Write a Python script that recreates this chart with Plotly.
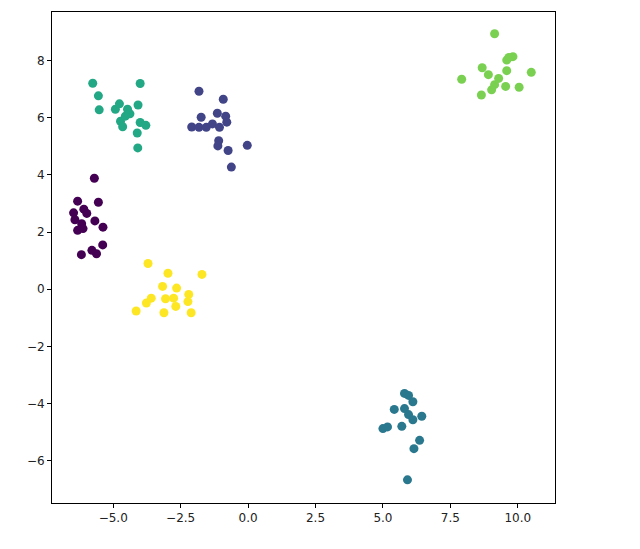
import plotly.graph_objects as go

# cluster 0 (purple)
x0 = [-5.70, -6.32, -5.55, -6.47, -6.09, -5.98, -6.42, -6.17, -5.68, -5.38, -6.32, -6.12, -5.39, -5.79, -5.62, -6.18]
y0 = [3.88, 3.08, 3.04, 2.67, 2.80, 2.65, 2.43, 2.29, 2.39, 2.17, 2.06, 2.12, 1.55, 1.36, 1.24, 1.21]
# cluster 1 (dark blue)
x1 = [-1.82, -0.92, -1.74, -2.09, -1.82, -1.55, -1.14, -0.83, -0.79, -1.32, -1.06, -1.09, -1.12, -0.74, -0.03, -0.62]
y1 = [6.92, 6.64, 6.01, 5.67, 5.66, 5.66, 6.15, 6.05, 5.84, 5.78, 5.66, 5.19, 5.01, 4.85, 5.03, 4.27]
# cluster 2 (teal)
x2 = [5.80, 5.95, 6.11, 5.42, 5.80, 5.95, 6.11, 6.44, 5.00, 5.17, 5.70, 6.36, 6.15, 5.91]
y2 = [-3.64, -3.71, -3.93, -4.20, -4.17, -4.38, -4.56, -4.44, -4.87, -4.81, -4.79, -5.28, -5.57, -6.66]
# cluster 3 (green)
x3 = [-5.76, -4.00, -5.55, -5.52, -4.92, -4.77, -4.47, -4.08, -4.38, -4.73, -4.65, -4.00, -3.79, -4.11, -4.09, -4.55]
y3 = [7.20, 7.19, 6.76, 6.27, 6.29, 6.48, 6.29, 6.44, 6.13, 5.87, 5.68, 5.83, 5.73, 5.46, 4.94, 6.05]
# cluster 4 (light green)
x4 = [9.14, 9.59, 9.82, 9.67, 8.68, 8.91, 9.59, 10.50, 7.92, 9.29, 9.14, 9.55, 9.03, 10.05, 8.65]
y4 = [8.93, 8.01, 8.13, 8.10, 7.74, 7.50, 7.64, 7.58, 7.34, 7.37, 7.15, 7.09, 6.97, 7.06, 6.79]
# cluster 5 (yellow)
x5 = [-3.71, -2.97, -1.71, -3.17, -2.65, -3.59, -3.77, -3.06, -2.76, -2.20, -2.23, -2.68, -4.15, -3.12, -2.11]
y5 = [0.90, 0.56, 0.52, 0.10, 0.04, -0.31, -0.48, -0.33, -0.31, -0.18, -0.43, -0.60, -0.76, -0.82, -0.82]

clusters = [(x0, y0), (x1, y1), (x2, y2), (x3, y3), (x4, y4), (x5, y5)]
colors = ["#440154", "#414487", "#2a788e", "#22a884", "#7ad151", "#fde725"]

xticks = [-5.0, -2.5, 0.0, 2.5, 5.0, 7.5, 10.0]
yticks = [-6, -4, -2, 0, 2, 4, 6, 8]

fig = go.Figure()
for (xs, ys), c in zip(clusters, colors):
    fig.add_trace(go.Scatter(x=xs, y=ys, mode="markers",
                             marker=dict(color=c, size=9, line=dict(width=0)),
                             showlegend=False))

axis_common = dict(showgrid=False, zeroline=False, showline=True, linecolor="black",
                   linewidth=1, mirror=True, ticks="outside", ticklen=4, tickcolor="black",
                   tickfont=dict(family="DejaVu Sans", size=12, color="#222222"))
fig.update_xaxes(range=[-7.27, 11.38], tickvals=xticks, tickformat=".1f", **axis_common)
fig.update_yaxes(range=[-7.47, 9.69], tickvals=yticks, **axis_common)
fig.update_layout(width=640, height=549, plot_bgcolor="white", paper_bgcolor="white",
                  margin=dict(l=44, r=93, t=4, b=54))
fig.write_html("out.html")
